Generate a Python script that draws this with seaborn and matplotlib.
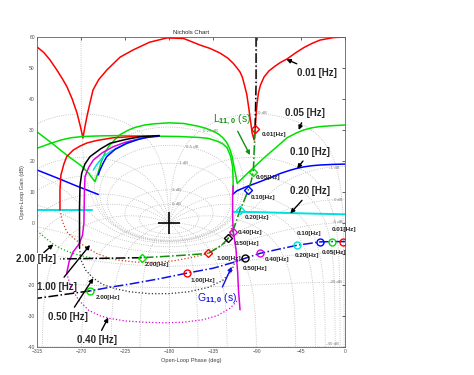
import numpy as np
import matplotlib
matplotlib.use('Agg')
import matplotlib.pyplot as plt
import seaborn as sns

# ---------------- data (phase [deg], gain [dB]) ----------------
# 0.01 Hz bound (red)
b001_ph = [-315, -308, -301.7, -295, -289, -284.3, -279, -274.1, -270.5, -268, -266, -264, -261, -257.7,
           -252, -243.4, -230, -216.8, -200, -182, -165, -148.3, -138, -127.8, -120, -114.6, -110,
           -107.4, -105, -103.3, -100.5, -98.2, -96.5, -95, -93, -92, -91.2, -90, -88.5, -86.5, -82.8,
           -78, -72, -66, -59.4, -50, -42, -34, -25.6, -12, 0]
b001_g = [56.8, 55, 52.6, 49.5, 46.5, 43.9, 40, 35.5, 31, 27.4, 31, 34.2, 38.5, 42.9,
          46.2, 49.4, 53.5, 55.8, 58.3, 59.7, 59.5, 57.4, 56.3, 54.8, 53.2, 51.6, 49.8,
          48.7, 47, 45, 41.5, 36.5, 32.5, 29, 26.8, 30, 34, 38.5, 42, 44.5, 47.1,
          49, 50.5, 51.8, 52.9, 55, 56.6, 57.9, 59, 59.8, 60]
# 0.05 Hz bound (green), outer and inner branch
b005a_ph = [-315, -300, -285, -270, -262, -255.7, -252, -249, -245, -241, -235, -230, -222, -215, -205,
            -195, -180, -165, -150, -142, -135, -129, -125, -121, -118, -115.5, -114, -112.5, -111.5,
            -110.3, -105, -97.2, -88, -80.1, -70, -59.3, -50, -42.3, -34, -25.6, -12, 0]
b005a_g = [29.4, 25.8, 22, 18.5, 16, 13.3, 16.8, 20, 23, 25, 27, 28.5, 29.9, 30.8, 31.6,
           32, 32.3, 32.1, 31.2, 30.5, 29.6, 28.6, 27.5, 26, 24, 21.5, 19, 16.5, 15,
           12.8, 14.4, 16.8, 19.5, 21.8, 24.5, 27.5, 29, 30, 30.7, 31.1, 31.4, 31.6]
b005b_ph = [-315, -300, -290, -280, -268, -250, -230, -210, -192, -170, -150, -140, -135, -130, -125,
            -120.7, -117, -115, -114.5, -114.3]
b005b_g = [24.1, 25.8, 26.8, 27.5, 27.9, 28.1, 28.2, 28.1, 28, 27.9, 27.6, 27.3, 26.8, 26.3, 25.5,
           24.3, 21.5, 18.2, 14, 10]
# 0.10 Hz bound (blue)
b010l_ph = [-315, -295, -275, -252.3]
b010l_g = [17.1, 14.6, 12, 9.2]
b010a_ph = [-252.3, -250.6, -247, -243.7, -235, -223.3, -212, -202.8, -190]
b010a_g = [15.5, 17.1, 19.5, 21.4, 23.8, 25.7, 26.9, 27.6, 28]
b010r_ph = [-115, -110.5, -100, -88, -76.7, -66, -56.3, -49.4, -42.3, -33, -25.6, -12, 0]
b010r_g = [9.2, 10.4, 11.8, 13.2, 14.6, 16, 17, 17.6, 18.1, 18.5, 18.7, 18.9, 19]
# 0.20 Hz bound (cyan)
b020l_ph = [-315, -259]
b020l_g = [4.2, 4.2]
b020a_ph = [-257.4, -254, -247.2, -240.3, -233.5, -222, -210, -198]
b020a_g = [17.1, 18.8, 21.4, 23, 24.1, 25.8, 27.2, 28]
b020r_ph = [-114.3, -90, -56, -30, 0]
b020r_g = [3.6, 3.5, 3.2, 3, 2.8]
# 0.40 Hz bound (magenta)
b040a_ph = [-195, -210, -225, -237, -248, -257.4, -262, -265.9, -266.5, -267, -268.5, -272, -278,
            -282, -284.6]
b040a_g = [28, 27.2, 26, 24.6, 22.7, 20.3, 18, 14.9, 10, 0, -4, -6.8, -9.3, -12.3, -16.2]
b040d_ph = [-284.6, -280, -272, -262, -250, -240, -225, -206, -185, -165, -145, -130, -117.6, -110]
b040d_g = [-16.2, -21, -25, -28.2, -30, -30.8, -31.6, -32, -32.2, -32, -31.2, -29.8, -27.5, -25]
b040r_ph = [-114.5, -115, -115, -114.3, -113, -111.5, -110.8, -109.8, -109, -107.4]
b040r_g = [12, 8, 2, -2.8, -5.5, -8.5, -12, -16, -21.6, -28]
# 0.50 Hz bound (black)
b050a_ph = [-190, -209.7, -225, -240.3, -250, -260.8, -266, -269.3, -271, -271.5, -271.5]
b050a_g = [28.2, 27.8, 26.9, 25.7, 23.9, 21.4, 19, 16, 12, 5, -8]
b050d_ph = [-271.5, -270, -265, -257.4, -248, -235, -220, -200, -180, -160, -140, -125, -116, -112]
b050d_g = [-8, -12, -15.3, -17.8, -19.8, -21.2, -22.2, -22.8, -22.8, -22.2, -20.8, -18.5, -15.5, -12]
# 1.00 Hz bound (red)
b100a_ph = [-291.5, -291.5, -290.5, -287.5, -284.6, -278, -271, -264, -254, -237, -220, -202.5, -192]
b100a_g = [4.2, 10.6, 15.5, 19, 21.4, 23.5, 24.8, 25.8, 26.6, 27.5, 27.8, 28, 28.1]
b100d_ph = [-291.5, -289, -284.6, -278, -271, -262, -254, -244, -233.5, -215, -195, -175, -160,
            -148, -140, -130, -121, -117, -115]
b100d_g = [4.2, 0.5, -2.8, -4.8, -6.5, -8.3, -9.8, -11, -11.9, -12.6, -12.7, -12.2, -11.3,
           -10.5, -9.7, -8, -6, -3, 0]
# 2.00 Hz bound (green, dotted part)
b200d_ph = [-315, -305, -298, -290, -280, -270, -260, -250, -240]
b200d_g = [-2.5, -5.2, -6.9, -8.3, -9.6, -10.6, -11.2, -11.5, -11.6]

# nominal open loop L11,0(s)
L_top_ph = [-91, -91, -92]
L_top_g = [60, 45, 30.3]
L_mid_ph = [-92, -93, -93.8, -96, -99, -103, -107.4, -111, -114.9, -119.3, -125, -132, -139.8,
            -160, -185, -208]
L_mid_g = [30.3, 23, 16.5, 13.5, 10.6, 7.4, 4.2, 0.8, -2.8, -4.9, -6.8, -8.3, -9.8,
           -10.3, -10.8, -11.2]
L_low_ph = [-208, -291.5]
L_low_g = [-11.2, -11.6]
# plant G11,0(s)
G_mid_ph = [0, -2.2, -13.5, -25.5, -49.2, -70, -87, -102.3, -115, -135, -162, -190, -220, -240, -260.6]
G_mid_g = [-6, -6, -6, -6.1, -7.2, -8.6, -9.8, -11.4, -12.8, -14.6, -16.2, -18, -19.7, -20.7, -21.9]
G_low_ph = [-260.6, -315]
G_low_g = [-21.9, -24.3]

freqs = ['0.01', '0.05', '0.10', '0.20', '0.40', '0.50', '1.00', '2.00']
freq_cols = ['#ff0000', '#00e000', '#0000ff', '#00e0e0', '#e000e0', '#000000', '#ff0000', '#00e000']
L_mk_ph = [-92, -93.8, -99, -107.4, -114.9, -119.3, -139.8, -208]
L_mk_g = [30.3, 16.5, 10.6, 4.2, -2.8, -4.9, -9.8, -11.2]
L_lab_ph = [-73, -78.4, -83.6, -90.2, -97.2, -100.5, -119, -192.6]
L_lab_g = [28.4, 14.7, 8.3, 1.8, -3.1, -6.6, -11.3, -13.5]
G_mk_ph = [-2.2, -13.5, -25.5, -49.2, -87, -102.3, -162, -260.6]
G_mk_g = [-6, -6, -6.1, -7.2, -9.8, -11.4, -16.2, -21.9]
G_lab_ph = [-1.3, -11.5, -37.1, -38.9, -69.6, -91.7, -144.9, -242]
G_lab_g = [-2, -9.6, -3.3, -10.4, -11.9, -14.6, -18.4, -24.1]

# big arrow annotations
ann_text = ['0.01 [Hz]', '0.05 [Hz]', '0.10 [Hz]', '0.20 [Hz]', '2.00 [Hz]', '1.00 [Hz]', '0.50 [Hz]', '0.40 [Hz]']
ann_ph = [-28.6, -40.6, -35.5, -35.5, -315.5, -295, -283, -254]
ann_g = [48.5, 35.4, 23, 10.3, -11.6, -20.5, -30.2, -37.7]
tip_ph = [-60, -47.4, -49, -56, -298.3, -260.8, -257.4, -242.1]
tip_g = [52.8, 30, 17.6, 3.1, -6.9, -7.1, -17.8, -30.5]

# axis ticks (the -10 label sits under the "2.00 [Hz]" note in the original)
x_ticks = [-315, -270, -225, -180, -135, -90, -45, 0]
y_ticks = [-40, -30, -20, -10, 0, 10, 20, 30, 40, 50, 60]
y_tick_labels = ['-40', '-30', '-20', '', '0', '10', '20', '30', '40', '50', '60']

# Nichols grid
m_levels = [-40, -20, -12, -6, -3, -1, 0, 0.25, 0.5, 1, 3, 6]
p_levels_r = [-150, -120, -90, -50, -30, -20, -10, -5, -1]
p_levels_l = [-359, -355, -350, -340, -330, -310, -270, -240, -210]
m_lab = ['0.25 dB', '0.5 dB', '1 dB', '3 dB', '6 dB', '0 dB', '-1 dB', '-3 dB', '-6 dB', '-20 dB', '-40 dB']
m_lab_ph = [-138, -156.5, -165.6, -172, -172, -84, -6, -3, -3, -3, -6]
m_lab_g = [29.7, 24.5, 19.3, 10.6, 6.1, 35.4, 17.7, 7.4, 0.3, -19, -39]

# ---------------- figure ----------------
sns.set_style('white')
plt.rcParams['font.family'] = ['Liberation Sans', 'DejaVu Sans']
plt.rcParams['mathtext.fontset'] = 'custom'
plt.rcParams['mathtext.rm'] = 'Liberation Sans'
plt.rcParams['mathtext.bf'] = 'Liberation Sans:bold'

fig = plt.figure(figsize=(4.74, 3.75), dpi=100)
ax = fig.add_axes([0.078, 0.0747, 0.650, 0.8267])

grid_col = '#b8b8b8'
ph = np.linspace(-360, 0, 1441) + 1e-4
gn = np.linspace(-42, 62, 1041) + 1e-4
PH, GN = np.meshgrid(ph, gn)
Lc = 10 ** (GN / 20) * np.exp(1j * np.deg2rad(PH))
with np.errstate(all='ignore'):
    M = 20 * np.log10(np.abs(Lc / (1 + Lc)))
    argT = PH - np.degrees(np.angle(1 + Lc))
ax.contour(PH, GN, M, levels=m_levels, colors=grid_col, linestyles=':', linewidths=0.6, zorder=0.5)
rmask = ph > -180
ax.contour(PH[:, rmask], GN[:, rmask], argT[:, rmask], levels=p_levels_r,
           colors=grid_col, linestyles=':', linewidths=0.6, zorder=0.5)
ax.contour(PH[:, ~rmask], GN[:, ~rmask], argT[:, ~rmask], levels=p_levels_l,
           colors=grid_col, linestyles=':', linewidths=0.6, zorder=0.5)
ax.vlines(-180, -42, 0, colors=grid_col, linestyles=':', linewidths=0.6, zorder=0.5)
for t, x, y in zip(m_lab, m_lab_ph, m_lab_g):
    ax.text(x, y, t, fontsize=3.2, color='#808080', ha='right' if x > -60 else 'center', va='center')


def curve(x, y, c, ls='-', lw=1.1):
    sns.lineplot(x=x, y=y, ax=ax, color=c, linewidth=lw, linestyle=ls, sort=False, estimator=None)


# bounds
curve(b001_ph, b001_g, '#ff0000')
curve(b005a_ph, b005a_g, '#00e000')
curve(b005b_ph, b005b_g, '#00e000')
curve(b200d_ph, b200d_g, '#00c000', ':', 0.9)
curve(b100d_ph, b100d_g, '#d04020', ':', 0.9)
curve(b050d_ph, b050d_g, '#303030', ':', 0.9)
curve(b040d_ph, b040d_g, '#e000e0', ':', 0.9)
curve(b010l_ph, b010l_g, '#0000ff')
curve(b010r_ph, b010r_g, '#0000ff')
curve(b020l_ph, b020l_g, '#00e0e0', lw=1.4)
curve(b020r_ph, b020r_g, '#00e0e0', lw=1.4)
curve(b100a_ph, b100a_g, '#ff0000')
curve(b040r_ph, b040r_g, '#e000e0')
curve(b040a_ph, b040a_g, '#e000e0')
curve(b020a_ph, b020a_g, '#00e0e0')
curve(b010a_ph, b010a_g, '#0000ff')
curve(b050a_ph, b050a_g, '#000000')

# L11,0 and G11,0
curve(L_top_ph, L_top_g, '#000000', '-.', 1.1)
curve(L_mid_ph, L_mid_g, '#109010', '-.', 1.1)
curve(L_low_ph, L_low_g, '#000000', '-.', 1.1)
curve(G_mid_ph, G_mid_g, '#1010e0', '-.', 1.1)
curve(G_low_ph, G_low_g, '#000000', '-.', 1.1)

for i in range(len(freqs)):
    ax.plot(L_mk_ph[i], L_mk_g[i], marker='D', ms=4.5, mfc='none', mec=freq_cols[i], mew=1.0, zorder=5)
    ax.plot(G_mk_ph[i], G_mk_g[i], marker='o', ms=5, mfc='none', mec=freq_cols[i], mew=1.0, zorder=5)
    ax.text(L_lab_ph[i], L_lab_g[i], freqs[i] + '[Hz]', fontsize=4.6, fontweight='bold', ha='center',
            va='center', zorder=6)
    ax.text(G_lab_ph[i], G_lab_g[i], freqs[i] + '[Hz]', fontsize=4.6, fontweight='bold', ha='center',
            va='center', zorder=6, clip_on=False)

ax.plot(-180, 0, marker='+', ms=16, mew=1.2, color='k', zorder=4)

for t, x, y, tx, ty in zip(ann_text, ann_ph, ann_g, tip_ph, tip_g):
    box = dict(boxstyle='square,pad=0.05', fc='white', ec='none') if x < -310 else None
    ax.annotate(t, xy=(tx, ty), xytext=(x, y), fontsize=7, fontweight='bold', ha='center', va='center',
                annotation_clip=False, zorder=7, bbox=box,
                arrowprops=dict(arrowstyle='-|>', color='k', lw=1.0, mutation_scale=6, shrinkA=1, shrinkB=0))

ax.annotate(r'L$_{\mathbf{11,0}}$ (s)', xy=(-97.2, 21.9), xytext=(-116, 33.4), fontsize=7.5,
            color='#109010', ha='center', va='center', zorder=7,
            arrowprops=dict(arrowstyle='-|>', color='#109010', lw=1.0, mutation_scale=6, shrinkA=1, shrinkB=0))
ax.annotate(r'G$_{\mathbf{11,0}}$ (s)', xy=(-115.9, -14.1), xytext=(-131, -24.5), fontsize=7.5,
            color='#1010e0', ha='center', va='center', zorder=7,
            arrowprops=dict(arrowstyle='-|>', color='#1010e0', lw=1.0, mutation_scale=6, shrinkA=1, shrinkB=0))

ax.set_xlim(-315, 0)
ax.set_ylim(-40, 60)
ax.set_xticks(x_ticks)
ax.set_yticks(y_ticks)
ax.set_yticklabels(y_tick_labels)
ax.tick_params(direction='in', length=2.5, width=0.5, labelsize=3.6, labelcolor='#505050',
               top=True, right=True, pad=1.5)
for s in ax.spines.values():
    s.set_color('#606060')
    s.set_linewidth(0.6)
ax.set_title('Nichols Chart', fontsize=4.3, pad=2)
ax.set_xlabel('Open-Loop Phase (deg)', fontsize=4.1, labelpad=3, color='#404040')
ax.set_ylabel('Open-Loop Gain (dB)', fontsize=4.1, labelpad=2, color='#404040')

fig.savefig('out.png', dpi=100)
